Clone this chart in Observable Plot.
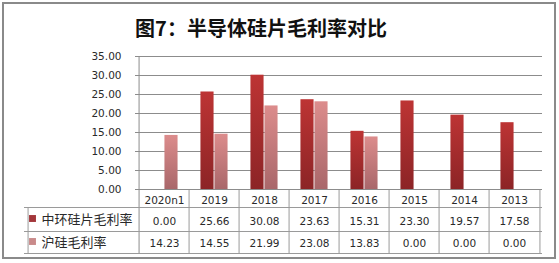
<!DOCTYPE html>
<html>
<head>
<meta charset="utf-8">
<script src="https://cdn.jsdelivr.net/npm/d3@7"></script>
<script src="https://cdn.jsdelivr.net/npm/@observablehq/plot@0.6"></script>
<style>
  html, body { margin: 0; padding: 0; background: #fff; }
  #wrap { position: relative; width: 559px; height: 263px; overflow: hidden; }
  #frame { position: absolute; left: 2px; top: 2px; width: 550px; height: 253px; border: 2px solid #8a8a8a; }
  #title { position: absolute; left: 0; top: 13px; width: 522px; text-align: center;
           font-family: "Noto Sans CJK SC", sans-serif; font-weight: 700; font-size: 20px; color: #111; }
  #chart { position: absolute; left: 0; top: 0; }
</style>
</head>
<body>
<div id="wrap">
  <div id="frame"></div>
  <div id="chart"></div>
  <div id="title">图7：半导体硅片毛利率对比</div>
</div>
<script>
const categories = ["2020n1", "2019", "2018", "2017", "2016", "2015", "2014", "2013"];
const seriesNames = ["中环硅片毛利率", "沪硅毛利率"];
const zhonghuan = [0.00, 25.66, 30.08, 23.63, 15.31, 23.30, 19.57, 17.58];
const hugui = [14.23, 14.55, 21.99, 23.08, 13.83, 0.00, 0.00, 0.00];
const yTicks = [0, 5, 10, 15, 20, 25, 30, 35];

const data = categories.map((c, i) => ({cat: c, zh: zhonghuan[i], hg: hugui[i]}));

const W = 559, H = 263;
const mL = 135, mR = 17, mT = 56, mB = 74;
const bw = (W - mL - mR) / categories.length;
const frameH = H - mT - mB;
const gridC = "#8c8c8c", tableC = "#9a9a9a";
const numFont = "DejaVu Sans";
const textC = "#2a2a2a";

const svg = Plot.plot({
  width: W, height: H,
  marginLeft: mL, marginRight: mR, marginTop: mT, marginBottom: mB,
  style: {fontFamily: numFont, fontSize: "10.5px", color: textC, background: "transparent"},
  x: {type: "band", domain: categories, padding: 0, axis: null},
  y: {domain: [0, 35], axis: null},
  marks: [
    Plot.ruleY(yTicks, {stroke: gridC, strokeWidth: 1}),
    Plot.barY(data, {x: "cat", y: "zh", fill: "url(#gRed)", insetLeft: bw * 0.225, insetRight: bw * 0.5}),
    Plot.barY(data, {x: "cat", y: "hg", fill: "url(#gPink)", insetLeft: bw * 0.5, insetRight: bw * 0.225}),
    Plot.axisY({ticks: yTicks, tickFormat: d => d.toFixed(2), tickSize: 0, tickPadding: 14, fontSize: 10.5, fill: textC}),
    // table lines
    Plot.ruleX([categories[0]], {dx: -bw / 2, stroke: gridC, insetBottom: -64}),
    Plot.ruleX(categories.slice(1), {dx: -bw / 2, stroke: tableC, insetTop: frameH, insetBottom: -64}),
    Plot.ruleX([categories[categories.length - 1]], {dx: bw / 2, stroke: tableC, insetTop: frameH, insetBottom: -64}),
    Plot.ruleX([categories[0]], {dx: -bw / 2 - 111, stroke: tableC, insetTop: frameH + 18, insetBottom: -64}),
    Plot.ruleY([0], {dy: 18, stroke: tableC, insetLeft: -111}),
    Plot.ruleY([0], {dy: 42, stroke: tableC, insetLeft: -111}),
    Plot.ruleY([0], {dy: 64, stroke: tableC, insetLeft: -111}),
    Plot.ruleY([0], {stroke: gridC}),
    // table header and values
    Plot.text(categories, {x: d => d, frameAnchor: "bottom", lineAnchor: "middle", dy: 11, fill: textC}),
    Plot.text(data, {x: "cat", frameAnchor: "bottom", lineAnchor: "middle", dy: 32, text: d => d.zh.toFixed(2), fill: textC}),
    Plot.text(data, {x: "cat", frameAnchor: "bottom", lineAnchor: "middle", dy: 54, text: d => d.hg.toFixed(2), fill: textC}),
    // legend in table
    Plot.dot([seriesNames[0]], {frameAnchor: "bottom-left", dx: 32 - mL, dy: 29, symbol: "square", r: 3.9, fill: "#a3363a", stroke: "none"}),
    Plot.dot([seriesNames[1]], {frameAnchor: "bottom-left", dx: 32 - mL, dy: 52, symbol: "square", r: 3.9, fill: "#c98a8a", stroke: "none"}),
    Plot.text([seriesNames[0]], {frameAnchor: "bottom-left", lineAnchor: "middle", dx: 41 - mL, dy: 30, text: d => d, textAnchor: "start", fontFamily: "Noto Sans CJK SC", fontSize: 13, fill: textC}),
    Plot.text([seriesNames[1]], {frameAnchor: "bottom-left", lineAnchor: "middle", dx: 41 - mL, dy: 53, text: d => d, textAnchor: "start", fontFamily: "Noto Sans CJK SC", fontSize: 13, fill: textC})
  ]
});

const defs = document.createElementNS("http://www.w3.org/2000/svg", "defs");
defs.innerHTML = `
  <linearGradient id="gRed" x1="0" y1="0" x2="0" y2="1">
    <stop offset="0" stop-color="#bd3434"/>
    <stop offset="1" stop-color="#8c2426"/>
  </linearGradient>
  <linearGradient id="gPink" x1="0" y1="0" x2="0" y2="1">
    <stop offset="0" stop-color="#dc8c8c"/>
    <stop offset="1" stop-color="#a9676a"/>
  </linearGradient>`;
svg.insertBefore(defs, svg.firstChild);
document.getElementById("chart").appendChild(svg);
</script>
</body>
</html>
